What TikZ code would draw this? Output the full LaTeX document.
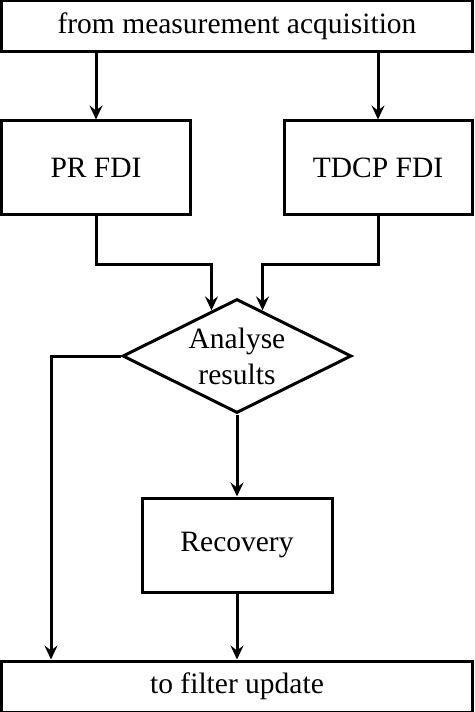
\documentclass[tikz,border=0pt]{standalone}
\usepackage{fontspec}
\setmainfont{Liberation Serif}
\usetikzlibrary{shapes,arrows.meta,positioning,calc}

\tikzset{
    block/.style={draw, line width=1.2pt, rectangle, inner sep=0pt,
        minimum width=75.2pt, minimum height=37.6pt},
    wide/.style={block, minimum width=188pt, minimum height=20.4pt},
    decide/.style={draw, line width=1.2pt, diamond, aspect=2, inner sep=0pt,
        minimum width=91.6pt, minimum height=45.6pt, align=center},
    arr/.style={-{Stealth[length=5.6pt, width=5.2pt, inset=2pt]}, line width=1.2pt},
    link/.style={line width=1.2pt}
}

\begin{document}
\begin{tikzpicture}[x=0.4pt, y=-0.4pt, font=\fontsize{11.8}{14.4}\selectfont]
    \useasboundingbox (0,0) rectangle (474,712);

    % input and output boxes
    \node[wide] (src) at (237, 26.5) {from measurement acquisition};
    \node[wide] (dst) at (237, 686.5) {to filter update};

    % the two detectors
    \node[block] (pr) at (96, 168) {PR FDI};
    \node[block] (tdcp) at (378, 168) {TDCP FDI};

    % decision and recovery
    \node[decide] (ana) at (237, 356) {Analyse\\results};
    \node[block, minimum width=76pt] (rec) at (237, 545) {Recovery};

    % entry points on the diamond
    \coordinate (pinL) at ($(ana.north)!0.22!(ana.west)$);
    \coordinate (pinR) at ($(ana.north)!0.22!(ana.east)$);
    \coordinate (skip) at (51, 500);

    % connectors
    \draw[arr] (pr.north |- src.south) -- (pr.north);
    \draw[arr] (tdcp.north |- src.south) -- (tdcp.north);
    \draw[arr] (pr.south) -- ++(0, 48) -| (pinL);
    \draw[arr] (tdcp.south) -- ++(0, 48) -| (pinR);
    \draw[arr] (ana.south) -- (rec.north);
    \draw[arr] (rec.south) -- (dst.north);
    \draw[arr] (ana.west) -| (skip |- dst.north);
\end{tikzpicture}
\end{document}
